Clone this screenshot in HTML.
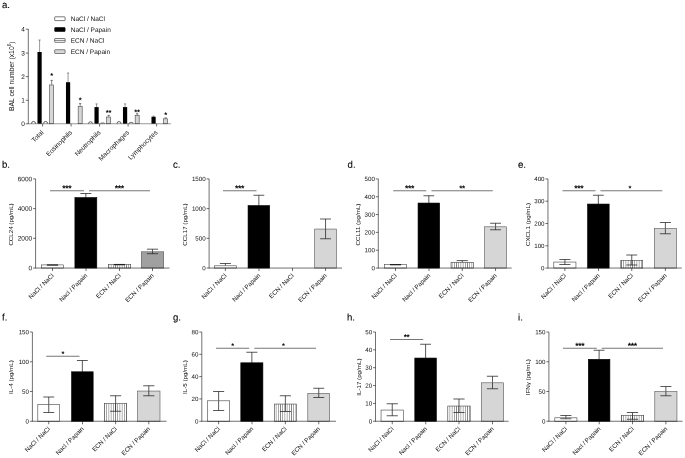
<!DOCTYPE html>
<html><head><meta charset="utf-8"><title>Figure</title>
<style>
html,body{margin:0;padding:0;background:#fff;}
svg{display:block;font-family:'Liberation Sans', Arial, sans-serif;}
</style></head><body>
<svg width="685" height="458" viewBox="0 0 685 458" font-family="Liberation Sans, Arial, sans-serif">
<defs>
<pattern id="hatch" width="2.2" height="4" patternUnits="userSpaceOnUse"><rect width="2.2" height="4" fill="#fff"/><line x1="1.1" y1="0" x2="1.1" y2="4" stroke="#444" stroke-width="0.55"/></pattern>
<pattern id="hatchh" width="4" height="1.8" patternUnits="userSpaceOnUse"><rect width="4" height="1.8" fill="#fff"/><line x1="0" y1="0.9" x2="4" y2="0.9" stroke="#555" stroke-width="0.5"/></pattern>
</defs>
<rect width="685" height="458" fill="#fff"/>
<text x="2.00" y="8.10" font-size="9.6" text-anchor="start" fill="#000" transform="rotate(0.03 2.00 8.10)" stroke="#000" stroke-width="0.1">a.</text>
<path d="M31.53 123.75 V123.45 Q31.53 121.45 33.53 121.45 H33.53 Q35.53 121.45 35.53 123.45 V123.75" fill="#fff" stroke="#222" stroke-width="0.7"/>
<path d="M43.62 123.75 V123.45 Q43.62 121.45 45.62 121.45 H45.62 Q47.62 121.45 47.62 123.45 V123.75" fill="#fff" stroke="#222" stroke-width="0.7"/>
<line x1="39.58" y1="52.00" x2="39.58" y2="40.00" stroke="#555" stroke-width="0.6"/>
<line x1="38.48" y1="40.00" x2="40.68" y2="40.00" stroke="#555" stroke-width="0.6"/>
<rect x="37.48" y="52.00" width="4.2" height="71.75" fill="#000"/>
<line x1="51.67" y1="84.65" x2="51.67" y2="80.40" stroke="#333" stroke-width="0.6"/>
<line x1="50.47" y1="80.40" x2="52.88" y2="80.40" stroke="#333" stroke-width="0.6"/>
<rect x="49.67" y="84.95" width="4.00" height="38.80" fill="#d6d6d6" stroke="#444" stroke-width="0.6"/>
<text x="51.47" y="78.38" font-size="7.6" text-anchor="middle" fill="#000" transform="rotate(0.03 51.47 78.38)" font-weight="bold" letter-spacing="-0.35">*</text>
<line x1="68.07" y1="82.20" x2="68.07" y2="73.00" stroke="#555" stroke-width="0.6"/>
<line x1="66.97" y1="73.00" x2="69.17" y2="73.00" stroke="#555" stroke-width="0.6"/>
<rect x="65.97" y="82.20" width="4.2" height="41.55" fill="#000"/>
<line x1="80.17" y1="106.20" x2="80.17" y2="103.60" stroke="#333" stroke-width="0.6"/>
<line x1="78.97" y1="103.60" x2="81.38" y2="103.60" stroke="#333" stroke-width="0.6"/>
<rect x="78.17" y="106.50" width="4.00" height="17.25" fill="#d6d6d6" stroke="#444" stroke-width="0.6"/>
<text x="79.97" y="102.88" font-size="7.6" text-anchor="middle" fill="#000" transform="rotate(0.03 79.97 102.88)" font-weight="bold" letter-spacing="-0.35">*</text>
<path d="M88.52 123.75 V123.75 Q88.52 121.75 90.52 121.75 H90.52 Q92.52 121.75 92.52 123.75 V123.75" fill="#fff" stroke="#222" stroke-width="0.7"/>
<path d="M100.62 123.75 V123.75 Q100.62 123.05 101.33 123.05 H103.92 Q104.62 123.05 104.62 123.75 V123.75" fill="#fff" stroke="#222" stroke-width="0.7"/>
<line x1="96.57" y1="107.10" x2="96.57" y2="103.90" stroke="#555" stroke-width="0.6"/>
<line x1="95.47" y1="103.90" x2="97.67" y2="103.90" stroke="#555" stroke-width="0.6"/>
<rect x="94.47" y="107.10" width="4.2" height="16.65" fill="#000"/>
<line x1="108.67" y1="116.75" x2="108.67" y2="115.40" stroke="#333" stroke-width="0.6"/>
<line x1="107.47" y1="115.40" x2="109.88" y2="115.40" stroke="#333" stroke-width="0.6"/>
<rect x="106.67" y="117.05" width="4.00" height="6.70" fill="#d6d6d6" stroke="#444" stroke-width="0.6"/>
<text x="108.47" y="115.18" font-size="7.6" text-anchor="middle" fill="#000" transform="rotate(0.03 108.47 115.18)" font-weight="bold" letter-spacing="-0.35">**</text>
<path d="M117.02 123.75 V123.55 Q117.02 121.55 119.02 121.55 H119.02 Q121.02 121.55 121.02 123.55 V123.75" fill="#fff" stroke="#222" stroke-width="0.7"/>
<path d="M129.12 123.75 V123.75 Q129.12 122.45 130.43 122.45 H131.82 Q133.12 122.45 133.12 123.75 V123.75" fill="#fff" stroke="#222" stroke-width="0.7"/>
<line x1="125.07" y1="107.10" x2="125.07" y2="103.90" stroke="#555" stroke-width="0.6"/>
<line x1="123.97" y1="103.90" x2="126.17" y2="103.90" stroke="#555" stroke-width="0.6"/>
<rect x="122.97" y="107.10" width="4.2" height="16.65" fill="#000"/>
<line x1="137.17" y1="115.00" x2="137.17" y2="113.70" stroke="#333" stroke-width="0.6"/>
<line x1="135.97" y1="113.70" x2="138.37" y2="113.70" stroke="#333" stroke-width="0.6"/>
<rect x="135.17" y="115.30" width="4.00" height="8.45" fill="#d6d6d6" stroke="#444" stroke-width="0.6"/>
<text x="136.97" y="114.78" font-size="7.6" text-anchor="middle" fill="#000" transform="rotate(0.03 136.97 114.78)" font-weight="bold" letter-spacing="-0.35">**</text>
<line x1="153.57" y1="116.75" x2="153.57" y2="116.10" stroke="#555" stroke-width="0.6"/>
<line x1="152.47" y1="116.10" x2="154.67" y2="116.10" stroke="#555" stroke-width="0.6"/>
<rect x="151.47" y="116.75" width="4.2" height="7.00" fill="#000"/>
<line x1="165.67" y1="118.50" x2="165.67" y2="117.90" stroke="#333" stroke-width="0.6"/>
<line x1="164.47" y1="117.90" x2="166.87" y2="117.90" stroke="#333" stroke-width="0.6"/>
<rect x="163.67" y="118.80" width="4.00" height="4.95" fill="#d6d6d6" stroke="#444" stroke-width="0.6"/>
<text x="165.47" y="117.58" font-size="7.6" text-anchor="middle" fill="#000" transform="rotate(0.03 165.47 117.58)" font-weight="bold" letter-spacing="-0.35">*</text>
<line x1="28.30" y1="29.00" x2="28.30" y2="124.05" stroke="#111" stroke-width="0.6"/>
<line x1="28.30" y1="123.75" x2="170.90" y2="123.75" stroke="#444" stroke-width="0.55"/>
<line x1="25.80" y1="123.75" x2="28.30" y2="123.75" stroke="#111" stroke-width="0.6"/>
<text x="24.90" y="126.05" font-size="6.5" text-anchor="end" fill="#111" transform="rotate(0.03 24.90 126.05)">0</text>
<line x1="25.80" y1="100.30" x2="28.30" y2="100.30" stroke="#111" stroke-width="0.6"/>
<text x="24.90" y="102.60" font-size="6.5" text-anchor="end" fill="#111" transform="rotate(0.03 24.90 102.60)">1</text>
<line x1="25.80" y1="76.60" x2="28.30" y2="76.60" stroke="#111" stroke-width="0.6"/>
<text x="24.90" y="78.90" font-size="6.5" text-anchor="end" fill="#111" transform="rotate(0.03 24.90 78.90)">2</text>
<line x1="25.80" y1="53.10" x2="28.30" y2="53.10" stroke="#111" stroke-width="0.6"/>
<text x="24.90" y="55.40" font-size="6.5" text-anchor="end" fill="#111" transform="rotate(0.03 24.90 55.40)">3</text>
<line x1="25.80" y1="29.20" x2="28.30" y2="29.20" stroke="#111" stroke-width="0.6"/>
<text x="24.90" y="31.50" font-size="6.5" text-anchor="end" fill="#111" transform="rotate(0.03 24.90 31.50)">4</text>
<line x1="42.60" y1="123.75" x2="42.60" y2="126.55" stroke="#111" stroke-width="0.6"/>
<text x="44.00" y="132.95" font-size="6.6" text-anchor="end" fill="#111" transform="rotate(-45 44.00 132.95)">Total</text>
<line x1="71.10" y1="123.75" x2="71.10" y2="126.55" stroke="#111" stroke-width="0.6"/>
<text x="72.50" y="132.95" font-size="6.6" text-anchor="end" fill="#111" transform="rotate(-45 72.50 132.95)">Eosinophils</text>
<line x1="99.60" y1="123.75" x2="99.60" y2="126.55" stroke="#111" stroke-width="0.6"/>
<text x="101.00" y="132.95" font-size="6.6" text-anchor="end" fill="#111" transform="rotate(-45 101.00 132.95)">Neutrophils</text>
<line x1="128.10" y1="123.75" x2="128.10" y2="126.55" stroke="#111" stroke-width="0.6"/>
<text x="129.50" y="132.95" font-size="6.6" text-anchor="end" fill="#111" transform="rotate(-45 129.50 132.95)">Macrophages</text>
<line x1="156.60" y1="123.75" x2="156.60" y2="126.55" stroke="#111" stroke-width="0.6"/>
<text x="158.00" y="132.95" font-size="6.6" text-anchor="end" fill="#111" transform="rotate(-45 158.00 132.95)">Lymphocytes</text>
<text x="14" y="76.3" font-size="6.8" text-anchor="middle" fill="#111" transform="rotate(-90 14 76.3)">BAL cell number (x10<tspan dy="-2.5" font-size="4.5">6</tspan><tspan dy="2.5">)</tspan></text>
<rect x="54.7" y="16.80" width="10.4" height="3.8" rx="0.5" fill="#fff" stroke="#333" stroke-width="0.65"/>
<text x="70.70" y="21.10" font-size="6.5" text-anchor="start" fill="#111" transform="rotate(0.03 70.70 21.10)">NaCl / NaCl</text>
<rect x="54.7" y="27.60" width="10.4" height="3.8" rx="0.5" fill="#000" stroke="#000" stroke-width="0.65"/>
<text x="70.70" y="31.90" font-size="6.5" text-anchor="start" fill="#111" transform="rotate(0.03 70.70 31.90)">NaCl / Papain</text>
<rect x="54.7" y="38.50" width="10.4" height="3.8" rx="0.5" fill="#fff" stroke="#333" stroke-width="0.65"/>
<line x1="54.70" y1="40.40" x2="65.10" y2="40.40" stroke="#333" stroke-width="0.6"/>
<text x="70.70" y="42.80" font-size="6.5" text-anchor="start" fill="#111" transform="rotate(0.03 70.70 42.80)">ECN / NaCl</text>
<rect x="54.7" y="49.70" width="10.4" height="3.8" rx="0.5" fill="#d6d6d6" stroke="#444" stroke-width="0.65"/>
<text x="70.70" y="54.00" font-size="6.5" text-anchor="start" fill="#111" transform="rotate(0.03 70.70 54.00)">ECN / Papain</text>
<text x="2.00" y="167.80" font-size="9.6" text-anchor="start" fill="#000" transform="rotate(0.03 2.00 167.80)" stroke="#000" stroke-width="0.1">b.</text>
<rect x="41.30" y="264.90" width="22.40" height="3.15" fill="#fff" stroke="#444" stroke-width="0.6"/>
<line x1="46.90" y1="265.00" x2="58.10" y2="265.00" stroke="#222" stroke-width="1.3"/>
<line x1="85.85" y1="197.55" x2="85.85" y2="193.50" stroke="#222" stroke-width="0.75"/>
<line x1="80.37" y1="193.50" x2="91.33" y2="193.50" stroke="#222" stroke-width="0.75"/>
<rect x="74.90" y="197.55" width="21.90" height="70.50" fill="#000" stroke="#000" stroke-width="0.6"/>
<rect x="108.30" y="264.50" width="22.40" height="3.55" fill="url(#hatch)" stroke="#444" stroke-width="0.6"/>
<line x1="113.90" y1="264.60" x2="125.10" y2="264.60" stroke="#222" stroke-width="1.3"/>
<line x1="152.50" y1="251.80" x2="152.50" y2="249.20" stroke="#222" stroke-width="0.75"/>
<line x1="146.90" y1="249.20" x2="158.10" y2="249.20" stroke="#222" stroke-width="0.75"/>
<rect x="141.30" y="251.80" width="22.40" height="16.25" fill="#a0a0a0" stroke="#555" stroke-width="0.6"/>
<line x1="152.50" y1="251.80" x2="152.50" y2="253.70" stroke="#222" stroke-width="0.75"/>
<line x1="146.90" y1="253.70" x2="158.10" y2="253.70" stroke="#222" stroke-width="0.75"/>
<line x1="35.60" y1="178.90" x2="35.60" y2="268.45" stroke="#111" stroke-width="0.6"/>
<line x1="35.60" y1="268.05" x2="169.50" y2="268.05" stroke="#111" stroke-width="0.6"/>
<line x1="33.10" y1="268.05" x2="35.60" y2="268.05" stroke="#111" stroke-width="0.6"/>
<text x="32.20" y="270.32" font-size="6.5" text-anchor="end" fill="#111" transform="rotate(0.03 32.20 270.32)">0</text>
<line x1="33.10" y1="238.33" x2="35.60" y2="238.33" stroke="#111" stroke-width="0.6"/>
<text x="32.20" y="240.61" font-size="6.5" text-anchor="end" fill="#111" transform="rotate(0.03 32.20 240.61)">2000</text>
<line x1="33.10" y1="208.62" x2="35.60" y2="208.62" stroke="#111" stroke-width="0.6"/>
<text x="32.20" y="210.89" font-size="6.5" text-anchor="end" fill="#111" transform="rotate(0.03 32.20 210.89)">4000</text>
<line x1="33.10" y1="178.90" x2="35.60" y2="178.90" stroke="#111" stroke-width="0.6"/>
<text x="32.20" y="181.17" font-size="6.5" text-anchor="end" fill="#111" transform="rotate(0.03 32.20 181.17)">6000</text>
<line x1="52.50" y1="268.05" x2="52.50" y2="271.05" stroke="#111" stroke-width="0.6"/>
<text x="54.20" y="276.05" font-size="6.2" text-anchor="end" fill="#111" transform="rotate(-45 54.20 276.05)">NaCl / NaCl</text>
<line x1="86.00" y1="268.05" x2="86.00" y2="271.05" stroke="#111" stroke-width="0.6"/>
<text x="87.70" y="276.05" font-size="6.2" text-anchor="end" fill="#111" transform="rotate(-45 87.70 276.05)">Nacl / Papain</text>
<line x1="119.50" y1="268.05" x2="119.50" y2="271.05" stroke="#111" stroke-width="0.6"/>
<text x="121.20" y="276.05" font-size="6.2" text-anchor="end" fill="#111" transform="rotate(-45 121.20 276.05)">ECN / NaCl</text>
<line x1="152.50" y1="268.05" x2="152.50" y2="271.05" stroke="#111" stroke-width="0.6"/>
<text x="154.20" y="276.05" font-size="6.2" text-anchor="end" fill="#111" transform="rotate(-45 154.20 276.05)">ECN / Papain</text>
<line x1="50.00" y1="190.75" x2="84.00" y2="190.75" stroke="#666" stroke-width="0.9"/>
<text x="66.80" y="191.35" font-size="8.6" text-anchor="middle" fill="#000" transform="rotate(0.03 66.80 191.35)" font-weight="bold" letter-spacing="-0.35">***</text>
<line x1="89.00" y1="190.75" x2="150.00" y2="190.75" stroke="#666" stroke-width="0.9"/>
<text x="119.30" y="191.35" font-size="8.6" text-anchor="middle" fill="#000" transform="rotate(0.03 119.30 191.35)" font-weight="bold" letter-spacing="-0.35">***</text>
<text x="13.30" y="224.48" font-size="6.2" text-anchor="middle" fill="#111" transform="rotate(-90 13.30 224.48)">CCL24 (pg/mL)</text>
<text x="173.00" y="167.80" font-size="9.6" text-anchor="start" fill="#000" transform="rotate(0.03 173.00 167.80)" stroke="#000" stroke-width="0.1">c.</text>
<line x1="225.38" y1="265.80" x2="225.38" y2="263.50" stroke="#222" stroke-width="0.75"/>
<line x1="219.84" y1="263.50" x2="230.91" y2="263.50" stroke="#222" stroke-width="0.75"/>
<rect x="214.30" y="265.80" width="22.15" height="2.25" fill="#fff" stroke="#444" stroke-width="0.6"/>
<line x1="258.85" y1="205.55" x2="258.85" y2="195.25" stroke="#222" stroke-width="0.75"/>
<line x1="253.45" y1="195.25" x2="264.25" y2="195.25" stroke="#222" stroke-width="0.75"/>
<rect x="248.05" y="205.55" width="21.60" height="62.50" fill="#000" stroke="#000" stroke-width="0.6"/>
<line x1="325.55" y1="229.05" x2="325.55" y2="219.00" stroke="#222" stroke-width="0.75"/>
<line x1="320.12" y1="219.00" x2="330.97" y2="219.00" stroke="#222" stroke-width="0.75"/>
<rect x="314.70" y="229.05" width="21.70" height="39.00" fill="#d6d6d6" stroke="#555" stroke-width="0.6"/>
<line x1="325.55" y1="229.05" x2="325.55" y2="238.75" stroke="#222" stroke-width="0.75"/>
<line x1="320.12" y1="238.75" x2="330.97" y2="238.75" stroke="#222" stroke-width="0.75"/>
<line x1="209.10" y1="178.90" x2="209.10" y2="268.45" stroke="#111" stroke-width="0.6"/>
<line x1="209.10" y1="268.05" x2="342.00" y2="268.05" stroke="#111" stroke-width="0.6"/>
<line x1="206.60" y1="268.05" x2="209.10" y2="268.05" stroke="#111" stroke-width="0.6"/>
<text x="205.70" y="270.22" font-size="6.2" text-anchor="end" fill="#111" transform="rotate(0.03 205.70 270.22)">0</text>
<line x1="206.60" y1="238.33" x2="209.10" y2="238.33" stroke="#111" stroke-width="0.6"/>
<text x="205.70" y="240.50" font-size="6.2" text-anchor="end" fill="#111" transform="rotate(0.03 205.70 240.50)">500</text>
<line x1="206.60" y1="208.62" x2="209.10" y2="208.62" stroke="#111" stroke-width="0.6"/>
<text x="205.70" y="210.79" font-size="6.2" text-anchor="end" fill="#111" transform="rotate(0.03 205.70 210.79)">1000</text>
<line x1="206.60" y1="178.90" x2="209.10" y2="178.90" stroke="#111" stroke-width="0.6"/>
<text x="205.70" y="181.07" font-size="6.2" text-anchor="end" fill="#111" transform="rotate(0.03 205.70 181.07)">1500</text>
<line x1="225.38" y1="268.05" x2="225.38" y2="271.05" stroke="#111" stroke-width="0.6"/>
<text x="227.07" y="276.05" font-size="6.2" text-anchor="end" fill="#111" transform="rotate(-45 227.07 276.05)">NaCl / NaCl</text>
<line x1="259.00" y1="268.05" x2="259.00" y2="271.05" stroke="#111" stroke-width="0.6"/>
<text x="260.70" y="276.05" font-size="6.2" text-anchor="end" fill="#111" transform="rotate(-45 260.70 276.05)">Nacl / Papain</text>
<line x1="292.50" y1="268.05" x2="292.50" y2="271.05" stroke="#111" stroke-width="0.6"/>
<text x="294.20" y="276.05" font-size="6.2" text-anchor="end" fill="#111" transform="rotate(-45 294.20 276.05)">ECN / NaCl</text>
<line x1="325.55" y1="268.05" x2="325.55" y2="271.05" stroke="#111" stroke-width="0.6"/>
<text x="327.25" y="276.05" font-size="6.2" text-anchor="end" fill="#111" transform="rotate(-45 327.25 276.05)">ECN / Papain</text>
<line x1="223.00" y1="190.75" x2="256.50" y2="190.75" stroke="#666" stroke-width="0.9"/>
<text x="239.55" y="191.35" font-size="8.6" text-anchor="middle" fill="#000" transform="rotate(0.03 239.55 191.35)" font-weight="bold" letter-spacing="-0.35">***</text>
<text x="187.00" y="224.48" font-size="6.2" text-anchor="middle" fill="#111" transform="rotate(-90 187.00 224.48)">CCL17 (pg/mL)</text>
<text x="347.60" y="167.80" font-size="9.6" text-anchor="start" fill="#000" transform="rotate(0.03 347.60 167.80)" stroke="#000" stroke-width="0.1">d.</text>
<rect x="384.30" y="264.55" width="22.40" height="3.50" fill="#fff" stroke="#444" stroke-width="0.6"/>
<line x1="389.90" y1="264.65" x2="401.10" y2="264.65" stroke="#222" stroke-width="1.3"/>
<line x1="428.85" y1="203.05" x2="428.85" y2="195.75" stroke="#222" stroke-width="0.75"/>
<line x1="423.45" y1="195.75" x2="434.25" y2="195.75" stroke="#222" stroke-width="0.75"/>
<rect x="418.05" y="203.05" width="21.60" height="65.00" fill="#000" stroke="#000" stroke-width="0.6"/>
<line x1="462.25" y1="262.30" x2="462.25" y2="260.60" stroke="#222" stroke-width="0.75"/>
<line x1="456.65" y1="260.60" x2="467.85" y2="260.60" stroke="#222" stroke-width="0.75"/>
<rect x="451.05" y="262.30" width="22.40" height="5.75" fill="url(#hatch)" stroke="#444" stroke-width="0.6"/>
<line x1="495.55" y1="226.80" x2="495.55" y2="223.25" stroke="#222" stroke-width="0.75"/>
<line x1="490.08" y1="223.25" x2="501.02" y2="223.25" stroke="#222" stroke-width="0.75"/>
<rect x="484.60" y="226.80" width="21.90" height="41.25" fill="#d6d6d6" stroke="#555" stroke-width="0.6"/>
<line x1="495.55" y1="226.80" x2="495.55" y2="229.75" stroke="#222" stroke-width="0.75"/>
<line x1="490.08" y1="229.75" x2="501.02" y2="229.75" stroke="#222" stroke-width="0.75"/>
<line x1="378.30" y1="178.90" x2="378.30" y2="268.45" stroke="#111" stroke-width="0.6"/>
<line x1="378.30" y1="268.05" x2="511.70" y2="268.05" stroke="#111" stroke-width="0.6"/>
<line x1="375.80" y1="268.05" x2="378.30" y2="268.05" stroke="#111" stroke-width="0.6"/>
<text x="374.90" y="270.22" font-size="6.2" text-anchor="end" fill="#111" transform="rotate(0.03 374.90 270.22)">0</text>
<line x1="375.80" y1="250.22" x2="378.30" y2="250.22" stroke="#111" stroke-width="0.6"/>
<text x="374.90" y="252.39" font-size="6.2" text-anchor="end" fill="#111" transform="rotate(0.03 374.90 252.39)">100</text>
<line x1="375.80" y1="232.39" x2="378.30" y2="232.39" stroke="#111" stroke-width="0.6"/>
<text x="374.90" y="234.56" font-size="6.2" text-anchor="end" fill="#111" transform="rotate(0.03 374.90 234.56)">200</text>
<line x1="375.80" y1="214.56" x2="378.30" y2="214.56" stroke="#111" stroke-width="0.6"/>
<text x="374.90" y="216.73" font-size="6.2" text-anchor="end" fill="#111" transform="rotate(0.03 374.90 216.73)">300</text>
<line x1="375.80" y1="196.73" x2="378.30" y2="196.73" stroke="#111" stroke-width="0.6"/>
<text x="374.90" y="198.90" font-size="6.2" text-anchor="end" fill="#111" transform="rotate(0.03 374.90 198.90)">400</text>
<line x1="375.80" y1="178.90" x2="378.30" y2="178.90" stroke="#111" stroke-width="0.6"/>
<text x="374.90" y="181.07" font-size="6.2" text-anchor="end" fill="#111" transform="rotate(0.03 374.90 181.07)">500</text>
<line x1="395.50" y1="268.05" x2="395.50" y2="271.05" stroke="#111" stroke-width="0.6"/>
<text x="397.20" y="276.05" font-size="6.2" text-anchor="end" fill="#111" transform="rotate(-45 397.20 276.05)">NaCl / NaCl</text>
<line x1="429.00" y1="268.05" x2="429.00" y2="271.05" stroke="#111" stroke-width="0.6"/>
<text x="430.70" y="276.05" font-size="6.2" text-anchor="end" fill="#111" transform="rotate(-45 430.70 276.05)">Nacl / Papain</text>
<line x1="462.25" y1="268.05" x2="462.25" y2="271.05" stroke="#111" stroke-width="0.6"/>
<text x="463.95" y="276.05" font-size="6.2" text-anchor="end" fill="#111" transform="rotate(-45 463.95 276.05)">ECN / NaCl</text>
<line x1="495.55" y1="268.05" x2="495.55" y2="271.05" stroke="#111" stroke-width="0.6"/>
<text x="497.25" y="276.05" font-size="6.2" text-anchor="end" fill="#111" transform="rotate(-45 497.25 276.05)">ECN / Papain</text>
<line x1="393.25" y1="190.75" x2="426.25" y2="190.75" stroke="#666" stroke-width="0.9"/>
<text x="409.55" y="191.35" font-size="8.6" text-anchor="middle" fill="#000" transform="rotate(0.03 409.55 191.35)" font-weight="bold" letter-spacing="-0.35">***</text>
<line x1="431.50" y1="190.75" x2="492.75" y2="190.75" stroke="#666" stroke-width="0.9"/>
<text x="461.93" y="191.05" font-size="8.0" text-anchor="middle" fill="#000" transform="rotate(0.03 461.93 191.05)" font-weight="bold" letter-spacing="-0.35">**</text>
<text x="359.60" y="224.48" font-size="6.2" text-anchor="middle" fill="#111" transform="rotate(-90 359.60 224.48)">CCL11 (pg/mL)</text>
<text x="518.00" y="167.80" font-size="9.6" text-anchor="start" fill="#000" transform="rotate(0.03 518.00 167.80)" stroke="#000" stroke-width="0.1">e.</text>
<line x1="564.88" y1="262.05" x2="564.88" y2="259.50" stroke="#222" stroke-width="0.75"/>
<line x1="559.34" y1="259.50" x2="570.41" y2="259.50" stroke="#222" stroke-width="0.75"/>
<rect x="553.80" y="262.05" width="22.15" height="6.00" fill="#fff" stroke="#444" stroke-width="0.6"/>
<line x1="564.88" y1="262.05" x2="564.88" y2="264.50" stroke="#222" stroke-width="0.75"/>
<line x1="559.34" y1="264.50" x2="570.41" y2="264.50" stroke="#222" stroke-width="0.75"/>
<line x1="598.35" y1="204.05" x2="598.35" y2="195.25" stroke="#222" stroke-width="0.75"/>
<line x1="592.95" y1="195.25" x2="603.75" y2="195.25" stroke="#222" stroke-width="0.75"/>
<rect x="587.55" y="204.05" width="21.60" height="64.00" fill="#000" stroke="#000" stroke-width="0.6"/>
<line x1="631.75" y1="260.30" x2="631.75" y2="255.00" stroke="#222" stroke-width="0.75"/>
<line x1="626.27" y1="255.00" x2="637.23" y2="255.00" stroke="#222" stroke-width="0.75"/>
<rect x="620.80" y="260.30" width="21.90" height="7.75" fill="url(#hatch)" stroke="#444" stroke-width="0.6"/>
<line x1="631.75" y1="260.30" x2="631.75" y2="265.00" stroke="#222" stroke-width="0.75"/>
<line x1="626.27" y1="265.00" x2="637.23" y2="265.00" stroke="#222" stroke-width="0.75"/>
<line x1="665.38" y1="228.55" x2="665.38" y2="222.50" stroke="#222" stroke-width="0.75"/>
<line x1="659.84" y1="222.50" x2="670.91" y2="222.50" stroke="#222" stroke-width="0.75"/>
<rect x="654.30" y="228.55" width="22.15" height="39.50" fill="#d6d6d6" stroke="#555" stroke-width="0.6"/>
<line x1="665.38" y1="228.55" x2="665.38" y2="233.75" stroke="#222" stroke-width="0.75"/>
<line x1="659.84" y1="233.75" x2="670.91" y2="233.75" stroke="#222" stroke-width="0.75"/>
<line x1="547.95" y1="178.90" x2="547.95" y2="268.45" stroke="#111" stroke-width="0.6"/>
<line x1="547.95" y1="268.05" x2="681.80" y2="268.05" stroke="#111" stroke-width="0.6"/>
<line x1="545.45" y1="268.05" x2="547.95" y2="268.05" stroke="#111" stroke-width="0.6"/>
<text x="544.55" y="270.22" font-size="6.2" text-anchor="end" fill="#111" transform="rotate(0.03 544.55 270.22)">0</text>
<line x1="545.45" y1="245.76" x2="547.95" y2="245.76" stroke="#111" stroke-width="0.6"/>
<text x="544.55" y="247.93" font-size="6.2" text-anchor="end" fill="#111" transform="rotate(0.03 544.55 247.93)">100</text>
<line x1="545.45" y1="223.48" x2="547.95" y2="223.48" stroke="#111" stroke-width="0.6"/>
<text x="544.55" y="225.65" font-size="6.2" text-anchor="end" fill="#111" transform="rotate(0.03 544.55 225.65)">200</text>
<line x1="545.45" y1="201.19" x2="547.95" y2="201.19" stroke="#111" stroke-width="0.6"/>
<text x="544.55" y="203.36" font-size="6.2" text-anchor="end" fill="#111" transform="rotate(0.03 544.55 203.36)">300</text>
<line x1="545.45" y1="178.90" x2="547.95" y2="178.90" stroke="#111" stroke-width="0.6"/>
<text x="544.55" y="181.07" font-size="6.2" text-anchor="end" fill="#111" transform="rotate(0.03 544.55 181.07)">400</text>
<line x1="564.88" y1="268.05" x2="564.88" y2="271.05" stroke="#111" stroke-width="0.6"/>
<text x="566.58" y="276.05" font-size="6.2" text-anchor="end" fill="#111" transform="rotate(-45 566.58 276.05)">NaCl / NaCl</text>
<line x1="598.50" y1="268.05" x2="598.50" y2="271.05" stroke="#111" stroke-width="0.6"/>
<text x="600.20" y="276.05" font-size="6.2" text-anchor="end" fill="#111" transform="rotate(-45 600.20 276.05)">Nacl / Papain</text>
<line x1="631.75" y1="268.05" x2="631.75" y2="271.05" stroke="#111" stroke-width="0.6"/>
<text x="633.45" y="276.05" font-size="6.2" text-anchor="end" fill="#111" transform="rotate(-45 633.45 276.05)">ECN / NaCl</text>
<line x1="665.38" y1="268.05" x2="665.38" y2="271.05" stroke="#111" stroke-width="0.6"/>
<text x="667.08" y="276.05" font-size="6.2" text-anchor="end" fill="#111" transform="rotate(-45 667.08 276.05)">ECN / Papain</text>
<line x1="562.50" y1="190.75" x2="595.50" y2="190.75" stroke="#666" stroke-width="0.9"/>
<text x="578.80" y="191.35" font-size="8.6" text-anchor="middle" fill="#000" transform="rotate(0.03 578.80 191.35)" font-weight="bold" letter-spacing="-0.35">***</text>
<line x1="600.50" y1="190.75" x2="662.25" y2="190.75" stroke="#666" stroke-width="0.9"/>
<text x="629.80" y="190.75" font-size="7.4" text-anchor="middle" fill="#000" transform="rotate(0.03 629.80 190.75)" font-weight="bold" letter-spacing="-0.35">*</text>
<text x="529.90" y="224.48" font-size="6.2" text-anchor="middle" fill="#111" transform="rotate(-90 529.90 224.48)">CXCL1 (pg/mL)</text>
<text x="2.00" y="320.40" font-size="9.6" text-anchor="start" fill="#000" transform="rotate(0.03 2.00 320.40)" stroke="#000" stroke-width="0.1">f.</text>
<line x1="48.75" y1="404.55" x2="48.75" y2="397.00" stroke="#222" stroke-width="0.75"/>
<line x1="43.27" y1="397.00" x2="54.23" y2="397.00" stroke="#222" stroke-width="0.75"/>
<rect x="37.80" y="404.55" width="21.90" height="16.70" fill="#fff" stroke="#444" stroke-width="0.6"/>
<line x1="48.75" y1="404.55" x2="48.75" y2="412.50" stroke="#222" stroke-width="0.75"/>
<line x1="43.27" y1="412.50" x2="54.23" y2="412.50" stroke="#222" stroke-width="0.75"/>
<line x1="82.35" y1="371.80" x2="82.35" y2="360.50" stroke="#222" stroke-width="0.75"/>
<line x1="76.95" y1="360.50" x2="87.75" y2="360.50" stroke="#222" stroke-width="0.75"/>
<rect x="71.55" y="371.80" width="21.60" height="49.45" fill="#000" stroke="#000" stroke-width="0.6"/>
<line x1="115.60" y1="403.55" x2="115.60" y2="395.75" stroke="#222" stroke-width="0.75"/>
<line x1="110.05" y1="395.75" x2="121.15" y2="395.75" stroke="#222" stroke-width="0.75"/>
<rect x="104.50" y="403.55" width="22.20" height="17.70" fill="url(#hatch)" stroke="#444" stroke-width="0.6"/>
<line x1="115.60" y1="403.55" x2="115.60" y2="411.25" stroke="#222" stroke-width="0.75"/>
<line x1="110.05" y1="411.25" x2="121.15" y2="411.25" stroke="#222" stroke-width="0.75"/>
<line x1="148.80" y1="391.05" x2="148.80" y2="385.75" stroke="#222" stroke-width="0.75"/>
<line x1="143.20" y1="385.75" x2="154.40" y2="385.75" stroke="#222" stroke-width="0.75"/>
<rect x="137.60" y="391.05" width="22.40" height="30.20" fill="#d6d6d6" stroke="#555" stroke-width="0.6"/>
<line x1="148.80" y1="391.05" x2="148.80" y2="395.75" stroke="#222" stroke-width="0.75"/>
<line x1="143.20" y1="395.75" x2="154.40" y2="395.75" stroke="#222" stroke-width="0.75"/>
<line x1="32.40" y1="332.00" x2="32.40" y2="421.65" stroke="#111" stroke-width="0.6"/>
<line x1="32.40" y1="421.25" x2="166.50" y2="421.25" stroke="#111" stroke-width="0.6"/>
<line x1="29.90" y1="421.25" x2="32.40" y2="421.25" stroke="#111" stroke-width="0.6"/>
<text x="29.00" y="423.42" font-size="6.2" text-anchor="end" fill="#111" transform="rotate(0.03 29.00 423.42)">0</text>
<line x1="29.90" y1="391.50" x2="32.40" y2="391.50" stroke="#111" stroke-width="0.6"/>
<text x="29.00" y="393.67" font-size="6.2" text-anchor="end" fill="#111" transform="rotate(0.03 29.00 393.67)">50</text>
<line x1="29.90" y1="361.75" x2="32.40" y2="361.75" stroke="#111" stroke-width="0.6"/>
<text x="29.00" y="363.92" font-size="6.2" text-anchor="end" fill="#111" transform="rotate(0.03 29.00 363.92)">100</text>
<line x1="29.90" y1="332.00" x2="32.40" y2="332.00" stroke="#111" stroke-width="0.6"/>
<text x="29.00" y="334.17" font-size="6.2" text-anchor="end" fill="#111" transform="rotate(0.03 29.00 334.17)">150</text>
<line x1="48.75" y1="421.25" x2="48.75" y2="424.25" stroke="#111" stroke-width="0.6"/>
<text x="50.45" y="429.25" font-size="6.2" text-anchor="end" fill="#111" transform="rotate(-45 50.45 429.25)">NaCl / NaCl</text>
<line x1="82.50" y1="421.25" x2="82.50" y2="424.25" stroke="#111" stroke-width="0.6"/>
<text x="84.20" y="429.25" font-size="6.2" text-anchor="end" fill="#111" transform="rotate(-45 84.20 429.25)">Nacl / Papain</text>
<line x1="115.60" y1="421.25" x2="115.60" y2="424.25" stroke="#111" stroke-width="0.6"/>
<text x="117.30" y="429.25" font-size="6.2" text-anchor="end" fill="#111" transform="rotate(-45 117.30 429.25)">ECN / NaCl</text>
<line x1="148.80" y1="421.25" x2="148.80" y2="424.25" stroke="#111" stroke-width="0.6"/>
<text x="150.50" y="429.25" font-size="6.2" text-anchor="end" fill="#111" transform="rotate(-45 150.50 429.25)">ECN / Papain</text>
<line x1="46.25" y1="356.25" x2="79.50" y2="356.25" stroke="#666" stroke-width="0.9"/>
<text x="62.67" y="356.25" font-size="7.4" text-anchor="middle" fill="#000" transform="rotate(0.03 62.67 356.25)" font-weight="bold" letter-spacing="-0.35">*</text>
<text x="13.50" y="377.12" font-size="6.2" text-anchor="middle" fill="#111" transform="rotate(-90 13.50 377.12)">IL-4 (pg/mL)</text>
<text x="173.00" y="320.40" font-size="9.6" text-anchor="start" fill="#000" transform="rotate(0.03 173.00 320.40)" stroke="#000" stroke-width="0.1">g.</text>
<line x1="218.62" y1="400.80" x2="218.62" y2="391.50" stroke="#222" stroke-width="0.75"/>
<line x1="213.09" y1="391.50" x2="224.16" y2="391.50" stroke="#222" stroke-width="0.75"/>
<rect x="207.55" y="400.80" width="22.15" height="20.45" fill="#fff" stroke="#444" stroke-width="0.6"/>
<line x1="218.62" y1="400.80" x2="218.62" y2="410.50" stroke="#222" stroke-width="0.75"/>
<line x1="213.09" y1="410.50" x2="224.16" y2="410.50" stroke="#222" stroke-width="0.75"/>
<line x1="251.85" y1="362.80" x2="251.85" y2="352.25" stroke="#222" stroke-width="0.75"/>
<line x1="246.32" y1="352.25" x2="257.38" y2="352.25" stroke="#222" stroke-width="0.75"/>
<rect x="240.80" y="362.80" width="22.10" height="58.45" fill="#000" stroke="#000" stroke-width="0.6"/>
<line x1="285.38" y1="404.05" x2="285.38" y2="395.75" stroke="#222" stroke-width="0.75"/>
<line x1="279.84" y1="395.75" x2="290.91" y2="395.75" stroke="#222" stroke-width="0.75"/>
<rect x="274.30" y="404.05" width="22.15" height="17.20" fill="url(#hatch)" stroke="#444" stroke-width="0.6"/>
<line x1="285.38" y1="404.05" x2="285.38" y2="411.50" stroke="#222" stroke-width="0.75"/>
<line x1="279.84" y1="411.50" x2="290.91" y2="411.50" stroke="#222" stroke-width="0.75"/>
<line x1="318.75" y1="393.30" x2="318.75" y2="388.25" stroke="#222" stroke-width="0.75"/>
<line x1="313.27" y1="388.25" x2="324.23" y2="388.25" stroke="#222" stroke-width="0.75"/>
<rect x="307.80" y="393.30" width="21.90" height="27.95" fill="#d6d6d6" stroke="#555" stroke-width="0.6"/>
<line x1="318.75" y1="393.30" x2="318.75" y2="397.50" stroke="#222" stroke-width="0.75"/>
<line x1="313.27" y1="397.50" x2="324.23" y2="397.50" stroke="#222" stroke-width="0.75"/>
<line x1="201.80" y1="332.00" x2="201.80" y2="421.65" stroke="#111" stroke-width="0.6"/>
<line x1="201.80" y1="421.25" x2="336.00" y2="421.25" stroke="#111" stroke-width="0.6"/>
<line x1="199.30" y1="421.25" x2="201.80" y2="421.25" stroke="#111" stroke-width="0.6"/>
<text x="198.40" y="423.42" font-size="6.2" text-anchor="end" fill="#111" transform="rotate(0.03 198.40 423.42)">0</text>
<line x1="199.30" y1="398.94" x2="201.80" y2="398.94" stroke="#111" stroke-width="0.6"/>
<text x="198.40" y="401.11" font-size="6.2" text-anchor="end" fill="#111" transform="rotate(0.03 198.40 401.11)">20</text>
<line x1="199.30" y1="376.62" x2="201.80" y2="376.62" stroke="#111" stroke-width="0.6"/>
<text x="198.40" y="378.80" font-size="6.2" text-anchor="end" fill="#111" transform="rotate(0.03 198.40 378.80)">40</text>
<line x1="199.30" y1="354.31" x2="201.80" y2="354.31" stroke="#111" stroke-width="0.6"/>
<text x="198.40" y="356.48" font-size="6.2" text-anchor="end" fill="#111" transform="rotate(0.03 198.40 356.48)">60</text>
<line x1="199.30" y1="332.00" x2="201.80" y2="332.00" stroke="#111" stroke-width="0.6"/>
<text x="198.40" y="334.17" font-size="6.2" text-anchor="end" fill="#111" transform="rotate(0.03 198.40 334.17)">80</text>
<line x1="218.62" y1="421.25" x2="218.62" y2="424.25" stroke="#111" stroke-width="0.6"/>
<text x="220.32" y="429.25" font-size="6.2" text-anchor="end" fill="#111" transform="rotate(-45 220.32 429.25)">NaCl / NaCl</text>
<line x1="252.00" y1="421.25" x2="252.00" y2="424.25" stroke="#111" stroke-width="0.6"/>
<text x="253.70" y="429.25" font-size="6.2" text-anchor="end" fill="#111" transform="rotate(-45 253.70 429.25)">Nacl / Papain</text>
<line x1="285.38" y1="421.25" x2="285.38" y2="424.25" stroke="#111" stroke-width="0.6"/>
<text x="287.07" y="429.25" font-size="6.2" text-anchor="end" fill="#111" transform="rotate(-45 287.07 429.25)">ECN / NaCl</text>
<line x1="318.75" y1="421.25" x2="318.75" y2="424.25" stroke="#111" stroke-width="0.6"/>
<text x="320.45" y="429.25" font-size="6.2" text-anchor="end" fill="#111" transform="rotate(-45 320.45 429.25)">ECN / Papain</text>
<line x1="216.00" y1="348.25" x2="249.25" y2="348.25" stroke="#666" stroke-width="0.9"/>
<text x="232.43" y="348.25" font-size="7.4" text-anchor="middle" fill="#000" transform="rotate(0.03 232.43 348.25)" font-weight="bold" letter-spacing="-0.35">*</text>
<line x1="254.25" y1="348.25" x2="316.00" y2="348.25" stroke="#666" stroke-width="0.9"/>
<text x="283.30" y="348.25" font-size="7.4" text-anchor="middle" fill="#000" transform="rotate(0.03 283.30 348.25)" font-weight="bold" letter-spacing="-0.35">*</text>
<text x="186.70" y="377.12" font-size="6.2" text-anchor="middle" fill="#111" transform="rotate(-90 186.70 377.12)">IL-5 (pg/mL)</text>
<text x="347.00" y="320.40" font-size="9.6" text-anchor="start" fill="#000" transform="rotate(0.03 347.00 320.40)" stroke="#000" stroke-width="0.1">h.</text>
<line x1="392.25" y1="410.05" x2="392.25" y2="403.75" stroke="#222" stroke-width="0.75"/>
<line x1="386.65" y1="403.75" x2="397.85" y2="403.75" stroke="#222" stroke-width="0.75"/>
<rect x="381.05" y="410.05" width="22.40" height="11.20" fill="#fff" stroke="#444" stroke-width="0.6"/>
<line x1="392.25" y1="410.05" x2="392.25" y2="415.75" stroke="#222" stroke-width="0.75"/>
<line x1="386.65" y1="415.75" x2="397.85" y2="415.75" stroke="#222" stroke-width="0.75"/>
<line x1="425.60" y1="358.05" x2="425.60" y2="344.25" stroke="#222" stroke-width="0.75"/>
<line x1="420.20" y1="344.25" x2="431.00" y2="344.25" stroke="#222" stroke-width="0.75"/>
<rect x="414.80" y="358.05" width="21.60" height="63.20" fill="#000" stroke="#000" stroke-width="0.6"/>
<line x1="459.00" y1="406.05" x2="459.00" y2="399.00" stroke="#222" stroke-width="0.75"/>
<line x1="453.40" y1="399.00" x2="464.60" y2="399.00" stroke="#222" stroke-width="0.75"/>
<rect x="447.80" y="406.05" width="22.40" height="15.20" fill="url(#hatch)" stroke="#444" stroke-width="0.6"/>
<line x1="459.00" y1="406.05" x2="459.00" y2="412.50" stroke="#222" stroke-width="0.75"/>
<line x1="453.40" y1="412.50" x2="464.60" y2="412.50" stroke="#222" stroke-width="0.75"/>
<line x1="492.50" y1="382.80" x2="492.50" y2="376.25" stroke="#222" stroke-width="0.75"/>
<line x1="486.90" y1="376.25" x2="498.10" y2="376.25" stroke="#222" stroke-width="0.75"/>
<rect x="481.30" y="382.80" width="22.40" height="38.45" fill="#d6d6d6" stroke="#555" stroke-width="0.6"/>
<line x1="492.50" y1="382.80" x2="492.50" y2="388.75" stroke="#222" stroke-width="0.75"/>
<line x1="486.90" y1="388.75" x2="498.10" y2="388.75" stroke="#222" stroke-width="0.75"/>
<line x1="375.50" y1="332.00" x2="375.50" y2="421.65" stroke="#111" stroke-width="0.6"/>
<line x1="375.50" y1="421.25" x2="508.60" y2="421.25" stroke="#111" stroke-width="0.6"/>
<line x1="373.00" y1="421.25" x2="375.50" y2="421.25" stroke="#111" stroke-width="0.6"/>
<text x="372.10" y="423.42" font-size="6.2" text-anchor="end" fill="#111" transform="rotate(0.03 372.10 423.42)">0</text>
<line x1="373.00" y1="403.40" x2="375.50" y2="403.40" stroke="#111" stroke-width="0.6"/>
<text x="372.10" y="405.57" font-size="6.2" text-anchor="end" fill="#111" transform="rotate(0.03 372.10 405.57)">10</text>
<line x1="373.00" y1="385.55" x2="375.50" y2="385.55" stroke="#111" stroke-width="0.6"/>
<text x="372.10" y="387.72" font-size="6.2" text-anchor="end" fill="#111" transform="rotate(0.03 372.10 387.72)">20</text>
<line x1="373.00" y1="367.70" x2="375.50" y2="367.70" stroke="#111" stroke-width="0.6"/>
<text x="372.10" y="369.87" font-size="6.2" text-anchor="end" fill="#111" transform="rotate(0.03 372.10 369.87)">30</text>
<line x1="373.00" y1="349.85" x2="375.50" y2="349.85" stroke="#111" stroke-width="0.6"/>
<text x="372.10" y="352.02" font-size="6.2" text-anchor="end" fill="#111" transform="rotate(0.03 372.10 352.02)">40</text>
<line x1="373.00" y1="332.00" x2="375.50" y2="332.00" stroke="#111" stroke-width="0.6"/>
<text x="372.10" y="334.17" font-size="6.2" text-anchor="end" fill="#111" transform="rotate(0.03 372.10 334.17)">50</text>
<line x1="392.25" y1="421.25" x2="392.25" y2="424.25" stroke="#111" stroke-width="0.6"/>
<text x="393.95" y="429.25" font-size="6.2" text-anchor="end" fill="#111" transform="rotate(-45 393.95 429.25)">NaCl / NaCl</text>
<line x1="425.75" y1="421.25" x2="425.75" y2="424.25" stroke="#111" stroke-width="0.6"/>
<text x="427.45" y="429.25" font-size="6.2" text-anchor="end" fill="#111" transform="rotate(-45 427.45 429.25)">Nacl / Papain</text>
<line x1="459.00" y1="421.25" x2="459.00" y2="424.25" stroke="#111" stroke-width="0.6"/>
<text x="460.70" y="429.25" font-size="6.2" text-anchor="end" fill="#111" transform="rotate(-45 460.70 429.25)">ECN / NaCl</text>
<line x1="492.50" y1="421.25" x2="492.50" y2="424.25" stroke="#111" stroke-width="0.6"/>
<text x="494.20" y="429.25" font-size="6.2" text-anchor="end" fill="#111" transform="rotate(-45 494.20 429.25)">ECN / Papain</text>
<line x1="390.00" y1="339.50" x2="423.25" y2="339.50" stroke="#666" stroke-width="0.9"/>
<text x="406.43" y="339.80" font-size="8.0" text-anchor="middle" fill="#000" transform="rotate(0.03 406.43 339.80)" font-weight="bold" letter-spacing="-0.35">**</text>
<text x="360.60" y="377.12" font-size="6.2" text-anchor="middle" fill="#111" transform="rotate(-90 360.60 377.12)">IL-17 (pg/mL)</text>
<text x="518.00" y="320.40" font-size="9.6" text-anchor="start" fill="#000" transform="rotate(0.03 518.00 320.40)" stroke="#000" stroke-width="0.1">i.</text>
<line x1="565.88" y1="417.80" x2="565.88" y2="415.50" stroke="#222" stroke-width="0.75"/>
<line x1="560.34" y1="415.50" x2="571.41" y2="415.50" stroke="#222" stroke-width="0.75"/>
<rect x="554.80" y="417.80" width="22.15" height="3.45" fill="#fff" stroke="#444" stroke-width="0.6"/>
<line x1="565.88" y1="417.80" x2="565.88" y2="418.75" stroke="#222" stroke-width="0.75"/>
<line x1="560.34" y1="418.75" x2="571.41" y2="418.75" stroke="#222" stroke-width="0.75"/>
<line x1="599.10" y1="359.30" x2="599.10" y2="350.25" stroke="#222" stroke-width="0.75"/>
<line x1="593.70" y1="350.25" x2="604.50" y2="350.25" stroke="#222" stroke-width="0.75"/>
<rect x="588.30" y="359.30" width="21.60" height="61.95" fill="#000" stroke="#000" stroke-width="0.6"/>
<line x1="632.50" y1="415.30" x2="632.50" y2="412.50" stroke="#222" stroke-width="0.75"/>
<line x1="626.90" y1="412.50" x2="638.10" y2="412.50" stroke="#222" stroke-width="0.75"/>
<rect x="621.30" y="415.30" width="22.40" height="5.95" fill="url(#hatch)" stroke="#444" stroke-width="0.6"/>
<line x1="632.50" y1="415.30" x2="632.50" y2="419.25" stroke="#222" stroke-width="0.75"/>
<line x1="626.90" y1="419.25" x2="638.10" y2="419.25" stroke="#222" stroke-width="0.75"/>
<line x1="665.88" y1="391.55" x2="665.88" y2="386.50" stroke="#222" stroke-width="0.75"/>
<line x1="660.34" y1="386.50" x2="671.41" y2="386.50" stroke="#222" stroke-width="0.75"/>
<rect x="654.80" y="391.55" width="22.15" height="29.70" fill="#d6d6d6" stroke="#555" stroke-width="0.6"/>
<line x1="665.88" y1="391.55" x2="665.88" y2="395.75" stroke="#222" stroke-width="0.75"/>
<line x1="660.34" y1="395.75" x2="671.41" y2="395.75" stroke="#222" stroke-width="0.75"/>
<line x1="548.90" y1="332.00" x2="548.90" y2="421.65" stroke="#111" stroke-width="0.6"/>
<line x1="548.90" y1="421.25" x2="682.50" y2="421.25" stroke="#111" stroke-width="0.6"/>
<line x1="546.40" y1="421.25" x2="548.90" y2="421.25" stroke="#111" stroke-width="0.6"/>
<text x="545.50" y="423.42" font-size="6.2" text-anchor="end" fill="#111" transform="rotate(0.03 545.50 423.42)">0</text>
<line x1="546.40" y1="391.50" x2="548.90" y2="391.50" stroke="#111" stroke-width="0.6"/>
<text x="545.50" y="393.67" font-size="6.2" text-anchor="end" fill="#111" transform="rotate(0.03 545.50 393.67)">50</text>
<line x1="546.40" y1="361.75" x2="548.90" y2="361.75" stroke="#111" stroke-width="0.6"/>
<text x="545.50" y="363.92" font-size="6.2" text-anchor="end" fill="#111" transform="rotate(0.03 545.50 363.92)">100</text>
<line x1="546.40" y1="332.00" x2="548.90" y2="332.00" stroke="#111" stroke-width="0.6"/>
<text x="545.50" y="334.17" font-size="6.2" text-anchor="end" fill="#111" transform="rotate(0.03 545.50 334.17)">150</text>
<line x1="565.88" y1="421.25" x2="565.88" y2="424.25" stroke="#111" stroke-width="0.6"/>
<text x="567.58" y="429.25" font-size="6.2" text-anchor="end" fill="#111" transform="rotate(-45 567.58 429.25)">NaCl / NaCl</text>
<line x1="599.25" y1="421.25" x2="599.25" y2="424.25" stroke="#111" stroke-width="0.6"/>
<text x="600.95" y="429.25" font-size="6.2" text-anchor="end" fill="#111" transform="rotate(-45 600.95 429.25)">Nacl / Papain</text>
<line x1="632.50" y1="421.25" x2="632.50" y2="424.25" stroke="#111" stroke-width="0.6"/>
<text x="634.20" y="429.25" font-size="6.2" text-anchor="end" fill="#111" transform="rotate(-45 634.20 429.25)">ECN / NaCl</text>
<line x1="665.88" y1="421.25" x2="665.88" y2="424.25" stroke="#111" stroke-width="0.6"/>
<text x="667.58" y="429.25" font-size="6.2" text-anchor="end" fill="#111" transform="rotate(-45 667.58 429.25)">ECN / Papain</text>
<line x1="563.00" y1="348.25" x2="596.75" y2="348.25" stroke="#666" stroke-width="0.9"/>
<text x="579.67" y="348.85" font-size="8.6" text-anchor="middle" fill="#000" transform="rotate(0.03 579.67 348.85)" font-weight="bold" letter-spacing="-0.35">***</text>
<line x1="601.75" y1="348.25" x2="663.00" y2="348.25" stroke="#666" stroke-width="0.9"/>
<text x="632.17" y="348.85" font-size="8.6" text-anchor="middle" fill="#000" transform="rotate(0.03 632.17 348.85)" font-weight="bold" letter-spacing="-0.35">***</text>
<text x="530.30" y="377.12" font-size="6.2" text-anchor="middle" fill="#111" transform="rotate(-90 530.30 377.12)">IFNγ (pg/mL)</text>
</svg>
</body></html>
